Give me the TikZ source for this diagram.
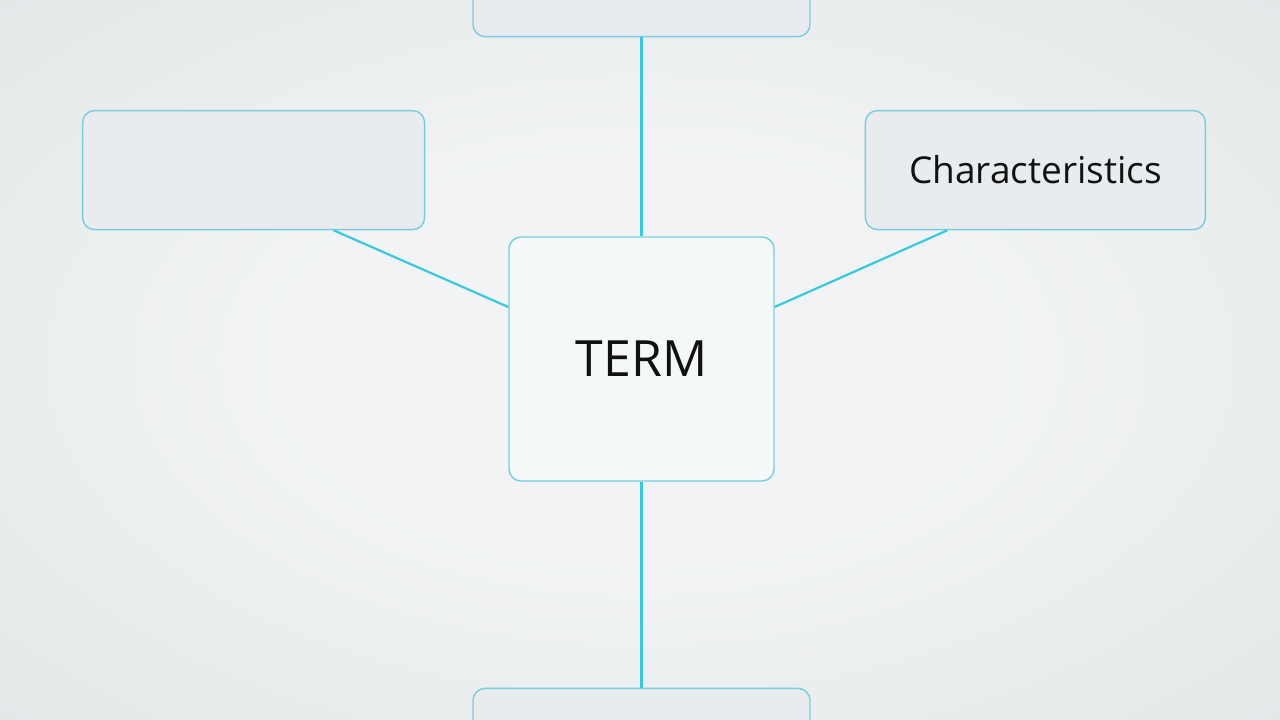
\documentclass[tikz,border=0pt]{standalone}
\usepackage{fontspec}
\setmainfont{Open Sans}
\usetikzlibrary{positioning}

\definecolor{edgecyan}{HTML}{78CCE0}
\definecolor{linkcyan}{HTML}{3CC8DC}
\definecolor{cardfill}{HTML}{E9ECEE}
\definecolor{termfill}{HTML}{F5F8F9}
\definecolor{bgouter}{HTML}{D6DBDE}
\definecolor{bgmid}{HTML}{E5E9EA}
\definecolor{bginner}{HTML}{F1F3F4}
\definecolor{inkdark}{HTML}{111111}

\pgfdeclareradialshading{backdrop}{\pgfpoint{0bp}{0bp}}{%
  color(0bp)=(bginner); color(14bp)=(bginner); color(34bp)=(bgmid); color(50bp)=(bgouter)}

\begin{document}
\begin{tikzpicture}[
    x=1pt, y=1pt,
    every node/.style={text=inkdark},
    card/.style={rectangle, rounded corners=12pt, draw=edgecyan, line width=1.4pt, fill=cardfill, minimum width=340pt, minimum height=119pt, inner sep=0pt, font=\fontsize{37}{44}\selectfont},
    termbox/.style={card, fill=termfill, minimum width=265pt, minimum height=244pt, font=\fontsize{50}{60}\selectfont},
    link/.style={draw=linkcyan, line width=2.2pt}
]

% Background
\useasboundingbox (0,0) rectangle (1280,720);
\shade[shading=backdrop] (0,0) rectangle (1280,720);

% Central term and surrounding cards
\node[termbox] (term) at (641.5,361) {\raisebox{-3pt}{TERM}};
\node[card, minimum width=337pt, above=199pt of term] (upper) {};
\node[card, minimum width=342pt, above left=6pt and 83pt of term] (leftcard) {};
\node[card, above right=6pt and 90pt of term] (traits) {Characteristics};
\node[card, minimum width=337pt, below=206pt of term] (lower) {};

% Connectors
\draw[link] (upper) -- (term);
\draw[link] ([xshift=80pt]leftcard.south) -- ([yshift=52pt]term.west);
\draw[link] ([xshift=-88pt]traits.south) -- ([yshift=52pt]term.east);
\draw[link] (term) -- (lower);

\end{tikzpicture}
\end{document}
